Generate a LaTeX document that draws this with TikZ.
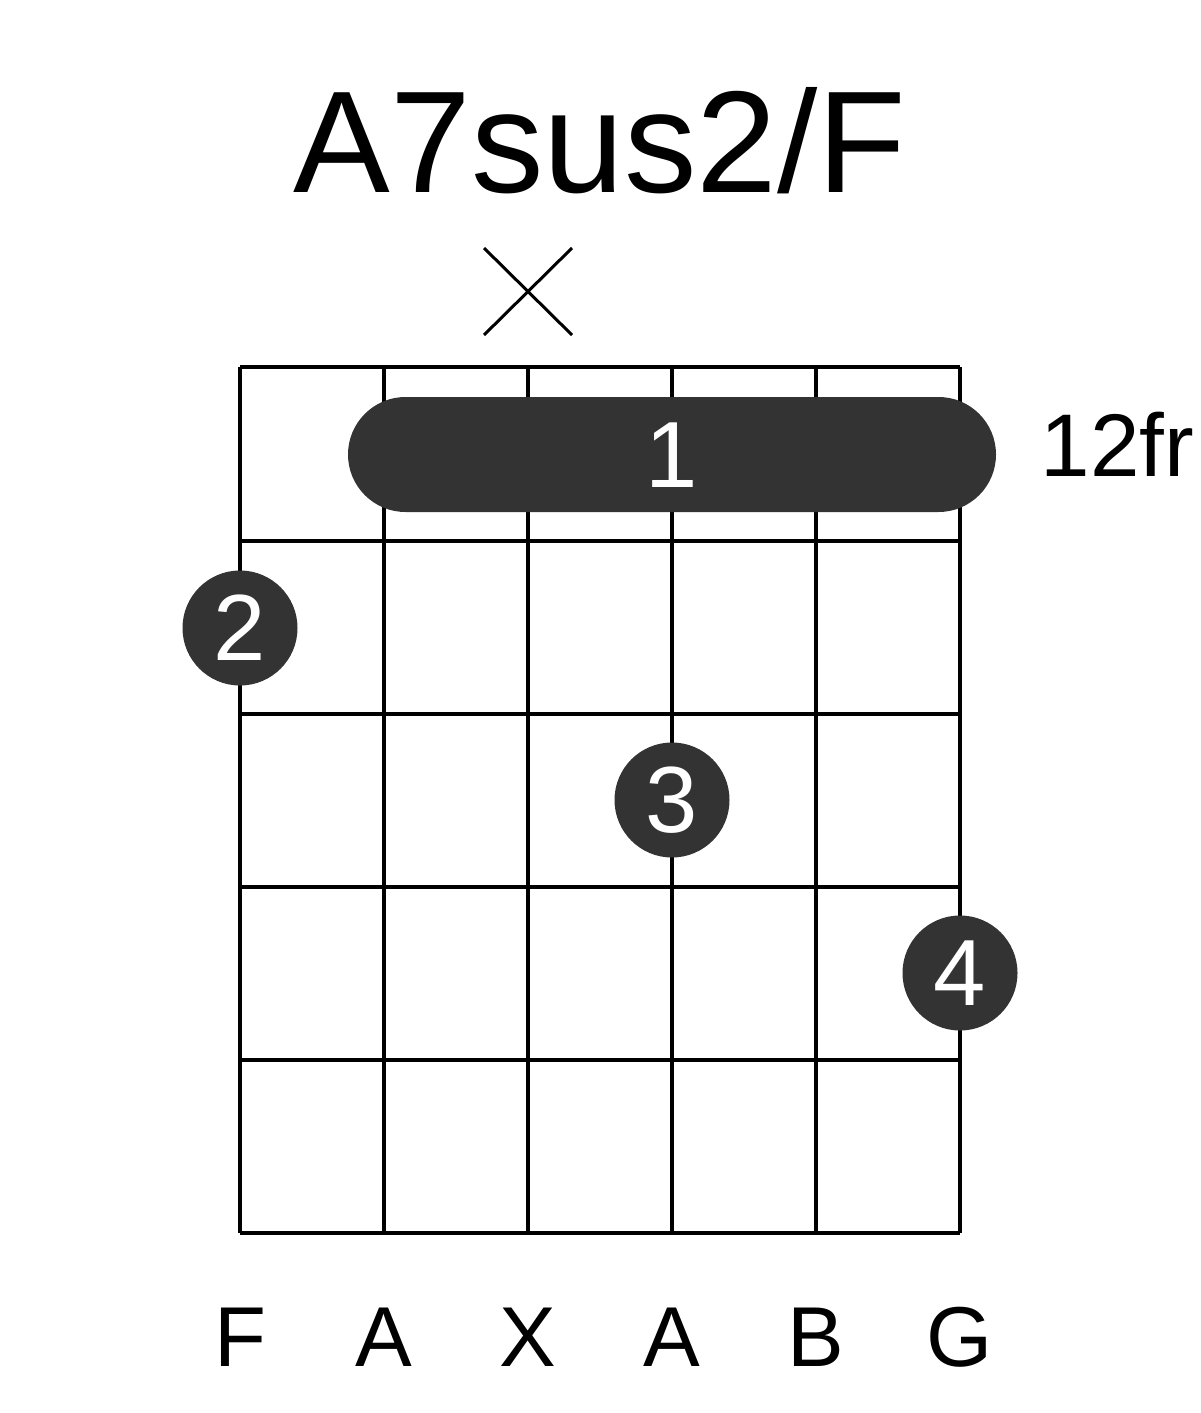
\documentclass[tikz,border=0pt]{standalone}
\usepackage{fontspec}
\setmainfont{Liberation Sans}
\definecolor{dotc}{HTML}{333333}
\begin{document}
\begin{tikzpicture}[x=1pt,y=-1pt,
  gridline/.style={line width=4pt,black},
  fingerdot/.style={circle,fill=dotc,minimum size=115pt,inner sep=0pt,text=white,font=\fontsize{94}{94}\selectfont},
  lbl/.style={font=\fontsize{85}{85}\selectfont,anchor=base}]
\useasboundingbox (0,0) rectangle (1200,1413);
% frets
\foreach \y in {367,541,714,887,1060,1233} \draw[gridline] (240,\y) -- (960,\y);
\foreach \x in {240,384,528,672,816,960} \draw[gridline] (\x,367) -- (\x,1233);
% title
\node[font=\fontsize{145}{145}\selectfont,anchor=base] (title) at (600,192) {A7sus2/F};
% X mark
\coordinate (xa) at (484,248); \coordinate (xb) at (572,335);
\coordinate (xc) at (572,248); \coordinate (xd) at (484,335);
\draw[line width=3pt] (xa) -- (xb);
\draw[line width=3pt] (xc) -- (xd);
% barre
\fill[dotc,rounded corners=57.5pt] (348,397) rectangle (996,512);
\node[text=white,font=\fontsize{94}{94}\selectfont] (b1) at (672,455) {1};
\node[font=\fontsize{89}{89}\selectfont,anchor=base west] (fr) at (1037,476) {12fr};
% dots
\node[fingerdot] (d2) at (240,628) {2};
\node[fingerdot] (d3) at (672,800) {3};
\node[fingerdot] (d4) at (960,973) {4};
% labels
\node[lbl] (l1) at (240,1366) {F};
\node[lbl] (l2) at (384,1366) {A};
\node[lbl] (l3) at (528,1366) {X};
\node[lbl] (l4) at (672,1366) {A};
\node[lbl] (l5) at (816,1366) {B};
\node[lbl] (l6) at (960,1366) {G};
\end{tikzpicture}
\end{document}
